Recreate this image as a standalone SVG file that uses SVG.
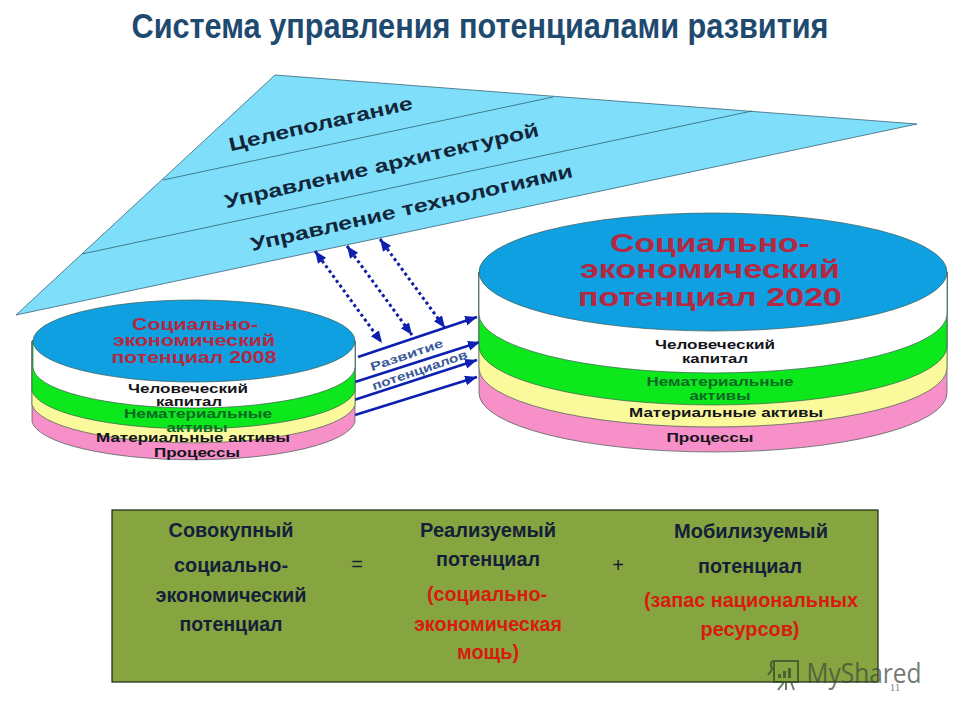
<svg xmlns="http://www.w3.org/2000/svg" width="960" height="720" viewBox="0 0 960 720">
<style>
text{font-family:"Liberation Sans",Arial,sans-serif;font-weight:bold;text-anchor:middle}
.layer{stroke:#3c5a50;stroke-width:.7}
.white{fill:#fff}.green{fill:#0de81c}.yellow{fill:#fafa9c}.pink{fill:#f78fc8}.blue{fill:#0fa0e2}
.big{fill:#b5283f}.lab{fill:#14141a}.dg{fill:#0a6a24}
.tri{fill:#7fdffa;stroke:#37657a;stroke-width:.8}
.div{stroke:#2f6272;stroke-width:.8;fill:none}
.tl{fill:#12263a;font-size:19px}
.solid{stroke:#0d1fb0;stroke-width:2.5;fill:none;marker-end:url(#head)}
.dot{stroke:#0d1fa0;stroke-width:3;stroke-dasharray:3 3;fill:none;marker-start:url(#headS);marker-end:url(#head)}
.rp{fill:#3a5a9a;font-size:12px}
.b{fill:#14203a;font-size:20px}
.r{fill:#d81a10;font-size:20px}
</style>
<defs>
<marker id="head" markerUnits="userSpaceOnUse" markerWidth="14" markerHeight="12" refX="12" refY="5" orient="auto"><path d="M0,0L12,5L0,10Z" fill="#0d1fb0"/></marker>
<marker id="headS" markerUnits="userSpaceOnUse" markerWidth="14" markerHeight="12" refX="0" refY="5" orient="auto"><path d="M12,0L0,5L12,10Z" fill="#0d1fb0"/></marker>
</defs>
<rect width="960" height="720" fill="#fff"/>
<text id="title" x="480" y="38" font-size="35" fill="#1f4a70" textLength="697" lengthAdjust="spacingAndGlyphs">Система управления потенциалами развития</text>

<g id="pyramid">
<path class="tri" d="M275,75L917,124L16,315Z"/>
<path class="div" d="M163,180L553,97M82,254L752,111"/>
<text class="tl" transform="translate(322,130) rotate(-13)" textLength="188" lengthAdjust="spacingAndGlyphs">Целеполагание</text>
<text class="tl" transform="translate(383,172) rotate(-13)" textLength="322" lengthAdjust="spacingAndGlyphs">Управление архитектурой</text>
<text class="tl" transform="translate(413,214) rotate(-13)" textLength="330" lengthAdjust="spacingAndGlyphs">Управление технологиями</text>
</g>

<g id="connectors">
<path class="dot" d="M315,251L382,343"/>
<path class="dot" d="M347,246L412,335"/>
<path class="dot" d="M380,239L445,328"/>
<path class="solid" d="M358,357L477,317"/>
<path class="solid" d="M355,382L480,342"/>
<path class="solid" d="M354,400L477,360"/>
<path class="solid" d="M355,415L477,377"/>
</g>
<g id="arrow-label">
<text class="rp" transform="translate(408,359) rotate(-19)" textLength="76" lengthAdjust="spacingAndGlyphs">Развитие</text>
<text class="rp" transform="translate(421,374) rotate(-19)" textLength="100" lengthAdjust="spacingAndGlyphs">потенциалов</text>
</g>

<g id="cylinder-2008">
<path class="layer pink" d="M32,341V422A162,41 0 0 0 355,422V341Z"/>
<path class="layer yellow" d="M32,341V405A162,41 0 0 0 355,405V341Z"/>
<path class="layer green" d="M32,341V391A162,41 0 0 0 355,391V341Z"/>
<path class="layer white" d="M33,341V367A161,41 0 0 0 355,367V341Z"/>
<ellipse class="layer blue" cx="194" cy="341" rx="161" ry="41"/>
<g class="big">
<text x="195" y="330" font-size="16" textLength="126" lengthAdjust="spacingAndGlyphs">Социально-</text>
<text x="194" y="346" font-size="16" textLength="162" lengthAdjust="spacingAndGlyphs">экономический</text>
<text x="194" y="363" font-size="16" textLength="165" lengthAdjust="spacingAndGlyphs">потенциал 2008</text>
</g>
<text class="lab" x="188" y="393" font-size="13" textLength="120" lengthAdjust="spacingAndGlyphs">Человеческий</text>
<text class="lab" x="189" y="406" font-size="13" textLength="66" lengthAdjust="spacingAndGlyphs">капитал</text>
<text class="dg" x="198" y="418" font-size="13" textLength="148" lengthAdjust="spacingAndGlyphs">Нематериальные</text>
<text class="dg" x="197" y="432" font-size="13" textLength="61" lengthAdjust="spacingAndGlyphs">активы</text>
<text class="lab" x="193" y="442" font-size="13" textLength="194" lengthAdjust="spacingAndGlyphs">Материальные активы</text>
<text class="lab" x="197" y="457" font-size="13" textLength="86" lengthAdjust="spacingAndGlyphs">Процессы</text>
</g>

<g id="cylinder-2020">
<path class="layer pink" d="M479,272V393A234,59 0 0 0 947,393V272Z"/>
<path class="layer yellow" d="M479,272V368A234,59 0 0 0 947,368V272Z"/>
<path class="layer green" d="M479,272V346A234,59 0 0 0 947,346V272Z"/>
<path class="layer white" d="M479,272V314A234,59 0 0 0 947,314V272Z"/>
<ellipse class="layer blue" cx="713" cy="272" rx="234" ry="59"/>
<g class="big">
<text x="710" y="252" font-size="25" textLength="200" lengthAdjust="spacingAndGlyphs">Социально-</text>
<text x="710" y="278" font-size="25" textLength="260" lengthAdjust="spacingAndGlyphs">экономический</text>
<text x="710" y="306" font-size="25" textLength="264" lengthAdjust="spacingAndGlyphs">потенциал 2020</text>
</g>
<text class="lab" x="715" y="349" font-size="13" textLength="120" lengthAdjust="spacingAndGlyphs">Человеческий</text>
<text class="lab" x="715" y="363" font-size="13" textLength="66" lengthAdjust="spacingAndGlyphs">капитал</text>
<text class="dg" x="720" y="386" font-size="13" textLength="147" lengthAdjust="spacingAndGlyphs">Нематериальные</text>
<text class="dg" x="720" y="400" font-size="13" textLength="61" lengthAdjust="spacingAndGlyphs">активы</text>
<text class="lab" x="726" y="417" font-size="13" textLength="194" lengthAdjust="spacingAndGlyphs">Материальные активы</text>
<text class="lab" x="710" y="442" font-size="13" textLength="87" lengthAdjust="spacingAndGlyphs">Процессы</text>
</g>

<g id="formula">
<rect x="112" y="510" width="766" height="172" fill="#86a540" stroke="#1c2412" stroke-width="1.2"/>
<text class="b" x="231" y="537" textLength="125" lengthAdjust="spacingAndGlyphs">Совокупный</text>
<text class="b" x="231" y="572" textLength="114" lengthAdjust="spacingAndGlyphs">социально-</text>
<text class="b" x="231" y="602" textLength="151" lengthAdjust="spacingAndGlyphs">экономический</text>
<text class="b" x="231" y="631" textLength="103" lengthAdjust="spacingAndGlyphs">потенциал</text>
<text class="b" x="357" y="571" style="font-weight:normal">=</text>
<text class="b" x="488" y="537" textLength="136" lengthAdjust="spacingAndGlyphs">Реализуемый</text>
<text class="b" x="488" y="566" textLength="104" lengthAdjust="spacingAndGlyphs">потенциал</text>
<text class="r" x="487" y="601" textLength="120" lengthAdjust="spacingAndGlyphs">(социально-</text>
<text class="r" x="488" y="631" textLength="148" lengthAdjust="spacingAndGlyphs">экономическая</text>
<text class="r" x="488" y="659" textLength="62" lengthAdjust="spacingAndGlyphs">мощь)</text>
<text class="b" x="618" y="572" style="font-weight:normal">+</text>
<text class="b" x="751" y="538" textLength="154" lengthAdjust="spacingAndGlyphs">Мобилизуемый</text>
<text class="b" x="750" y="573" textLength="104" lengthAdjust="spacingAndGlyphs">потенциал</text>
<text class="r" x="751" y="607" textLength="214" lengthAdjust="spacingAndGlyphs">(запас национальных</text>
<text class="r" x="750" y="636" textLength="99" lengthAdjust="spacingAndGlyphs">ресурсов)</text>
</g>

<g id="watermark" opacity=".72">
<path d="M774,661H798V682H774ZM774,661C770,661 770,668 773,668M768,675L773,668M784,682L778,690M786,682V690M791,682L794,690" fill="none" stroke="#2f4a26" stroke-width="2"/>
<path d="M778,678H781V674H778ZM783,678H786V671H783ZM788,678H791V668H788Z" fill="#2f4a26"/>
<text x="864" y="683" font-size="27" style="font-family:'Open Sans','Liberation Sans',sans-serif;font-weight:normal" fill="#3d4a3c" textLength="115" lengthAdjust="spacingAndGlyphs">MyShared</text>
</g>
<text id="page" x="895" y="691" font-size="11" style="font-family:'Liberation Serif',serif;font-weight:normal" fill="#8a8a8a">11</text>
</svg>
